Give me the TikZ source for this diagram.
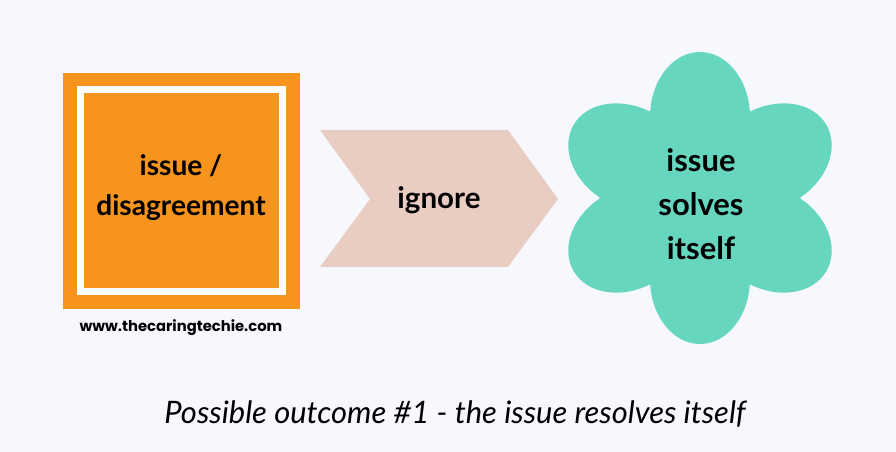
\documentclass[tikz,border=0pt]{standalone}
\usepackage{fontspec}
\setmainfont{Lato}
\newfontfamily\sitefont{Poppins}
\definecolor{pagebg}{HTML}{F7F8FE}
\definecolor{boxorange}{HTML}{F7941D}
\definecolor{chevronpink}{HTML}{E9CDC3}
\definecolor{flowergreen}{HTML}{66D6BF}
\begin{document}
\begin{tikzpicture}[x=0.025cm, y=-0.025cm,
  every node/.style={inner sep=0pt, text=black},
  label/.style={font=\bfseries\fontsize{20}{28.5}\selectfont, align=center},
  petal/.style={fill=flowergreen}]
  \useasboundingbox[fill=pagebg] (0,0) rectangle (896,452);
  % framed square on the left
  \fill[boxorange] (63,73) rectangle (300,309);
  \fill[white] (77,86) rectangle (286,295);
  \fill[boxorange] (84,93) rectangle (279,288);
  \node[label] (issue) at (181,188) {issue /\\disagreement};
  \node[font=\sitefont\bfseries\fontsize{10.5}{13}\selectfont] (site) at (181,328) {www.thecaringtechie.com};
  % chevron in the middle
  \fill[chevronpink] (320,130) -- (508,130) -- (558,199) -- (508,267) -- (320,267) -- (370,199) -- cycle;
  \node[label, font=\bfseries\fontsize{21}{24}\selectfont] (ignore) at (439,200) {ignore};
  % flower on the right
  \begin{scope}[shift={(700,198)}]
    \fill[petal] (0,0) circle (72);
    \fill[petal, rotate=90] (81,0) ellipse [x radius=65, y radius=50];
    \fill[petal, rotate=270] (81,0) ellipse [x radius=65, y radius=50];
    \fill[petal, rotate=30] (81,0) ellipse [x radius=65, y radius=50];
    \fill[petal, rotate=150] (81,0) ellipse [x radius=65, y radius=50];
    \fill[petal, rotate=210] (81,0) ellipse [x radius=65, y radius=50];
    \fill[petal, rotate=330] (81,0) ellipse [x radius=65, y radius=50];
  \end{scope}
  \node[label, font=\bfseries\fontsize{22}{31.3}\selectfont] (solves) at (701,204) {issue\\solves\\itself};
  % caption
  \node[font=\itshape\fontsize{22}{26}\selectfont] (caption) at (455,414) {Possible outcome \#1 - the issue resolves itself};
\end{tikzpicture}
\end{document}
